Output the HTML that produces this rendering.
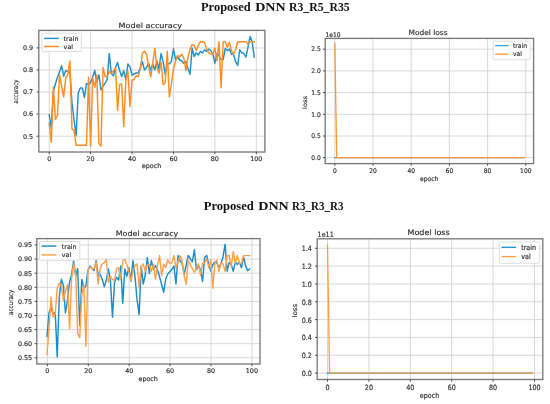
<!DOCTYPE html>
<html><head><meta charset="utf-8"><title>Proposed DNN</title>
<style>html,body{margin:0;padding:0;background:#fff;}body{width:550px;height:404px;overflow:hidden;}svg{display:block;filter:blur(0.3px);}</style>
</head><body>
<svg width="550" height="404" viewBox="0 0 550 404">
<rect width="550" height="404" fill="#fff"/>
<path d="M49.2 30.4V152M90.62 30.4V152M132.04 30.4V152M173.46 30.4V152M214.88 30.4V152M256.3 30.4V152M38.8 136.2H264.9M38.8 114.13H264.9M38.8 92.06H264.9M38.8 69.99H264.9M38.8 47.92H264.9" stroke="#d4d4d4" stroke-width="0.9" fill="none"/>
<path d="M49.2 114.7 L51.27 128.1 L53.34 91.5 L55.41 84 L57.48 77.3 L59.56 71.7 L61.63 65.8 L63.7 76.2 L65.77 70.6 L67.84 71.7 L69.91 72 L71.98 102.9 L74.05 120 L76.13 135.5 L78.2 93 L80.27 88 L82.34 88 L84.41 97.5 L86.48 83.4 L88.55 85 L90.62 82 L92.7 77 L94.77 70.5 L96.84 81.5 L98.91 75 L100.98 90 L103.05 86.2 L105.12 83.2 L107.19 79.5 L109.26 53.5 L111.34 73.6 L113.41 75.8 L115.48 67.6 L117.55 62.4 L119.62 70.6 L121.69 76.6 L123.76 70.6 L125.83 79.5 L127.91 63.9 L129.98 66.9 L132.05 75 L134.12 74 L136.19 73 L138.26 73 L140.33 67.6 L142.4 61.7 L144.48 69.9 L146.55 67.6 L148.62 63.2 L150.69 69.9 L152.76 63.9 L154.83 69.9 L156.9 61 L158.97 69.1 L161.04 53.5 L163.12 61.7 L165.19 74.3 L167.26 63.5 L169.33 63.9 L171.4 61.5 L173.47 48.8 L175.54 59.5 L177.61 57 L179.69 60 L181.76 61 L183.83 63.2 L185.9 61.7 L187.97 68.4 L190.04 74.3 L192.11 48.3 L194.18 56.5 L196.26 52.8 L198.33 55 L200.4 51.3 L202.47 52.8 L204.54 49.8 L206.61 51.3 L208.68 49.1 L210.75 50.5 L212.82 54 L214.9 63.2 L216.97 53.5 L219.04 55.8 L221.11 59.5 L223.18 59.5 L225.25 48.5 L227.32 50.6 L229.39 49.1 L231.47 54.3 L233.54 54.3 L235.61 61.7 L237.68 65.4 L239.75 49.8 L241.82 52.8 L243.89 53.5 L245.96 57.2 L248.04 46.9 L250.11 36.5 L252.18 41.7 L254.25 57.2" stroke="#2090c8" stroke-width="1.45" fill="none" stroke-linejoin="round" stroke-linecap="square"/>
<path d="M49.2 122.9 L51.27 142.2 L53.34 87.3 L55.41 119.2 L57.48 115.5 L59.56 75 L61.63 86 L63.7 96.8 L65.77 77.8 L67.84 74.5 L69.91 61.1 L71.98 128.8 L74.05 130.3 L76.13 145.2 L78.2 145.2 L80.27 145.2 L82.34 145.2 L84.41 145.2 L86.48 145.2 L88.55 77.3 L90.62 146.5 L92.7 78.2 L94.77 87.2 L96.84 75 L98.91 143.7 L100.98 145.9 L103.05 67.6 L105.12 76.6 L107.19 76.6 L109.26 71.4 L111.34 72.8 L113.41 71.4 L115.48 67.6 L117.55 110.3 L119.62 84.5 L121.69 84 L123.76 126.6 L125.83 80 L127.91 71.4 L129.98 106.6 L132.05 80.3 L134.12 79.5 L136.19 75.5 L138.26 76.6 L140.33 68.8 L142.4 53.5 L144.48 51.3 L146.55 54.4 L148.62 65.7 L150.69 77.1 L152.76 62.8 L154.83 48.4 L156.9 66.7 L158.97 73.2 L161.04 62.3 L163.12 84.7 L165.19 82.5 L167.26 51.3 L169.33 96.9 L171.4 84 L173.47 69 L175.54 61 L177.61 55.5 L179.69 56.8 L181.76 54.3 L183.83 58 L185.9 70.6 L187.97 57.2 L190.04 49.1 L192.11 44.6 L194.18 45.4 L196.26 50.6 L198.33 45.4 L200.4 41.7 L202.47 41.7 L204.54 42.4 L206.61 49.1 L208.68 52.8 L210.75 54 L212.82 54.3 L214.9 48.3 L216.97 60.6 L219.04 41.7 L221.11 87.7 L223.18 41.7 L225.25 41.7 L227.32 47.6 L229.39 42.4 L231.47 50.6 L233.54 54.3 L235.61 49.8 L237.68 41.7 L239.75 41.7 L241.82 41.7 L243.89 41.7 L245.96 41.7 L248.04 43.9 L250.11 41.7 L252.18 41.7 L254.25 41.7" stroke="#ff8c22" stroke-width="1.45" fill="none" stroke-linejoin="round" stroke-linecap="square"/>
<rect x="38.8" y="30.4" width="226.1" height="121.6" fill="none" stroke="#767676" stroke-width="1.3"/>
<path d="M49.2 152v2.2M90.62 152v2.2M132.04 152v2.2M173.46 152v2.2M214.88 152v2.2M256.3 152v2.2M38.8 136.2h-2.2M38.8 114.13h-2.2M38.8 92.06h-2.2M38.8 69.99h-2.2M38.8 47.92h-2.2" stroke="#4a4a4a" stroke-width="1.0" fill="none"/>
<g font-family="'DejaVu Sans', 'Liberation Sans', sans-serif" stroke="#2c2c2c" stroke-width="0.15">
<text x="49.2" y="160.6" font-size="6.4" text-anchor="middle" fill="#2c2c2c">0</text>
<text x="90.62" y="160.6" font-size="6.4" text-anchor="middle" fill="#2c2c2c">20</text>
<text x="132.04" y="160.6" font-size="6.4" text-anchor="middle" fill="#2c2c2c">40</text>
<text x="173.46" y="160.6" font-size="6.4" text-anchor="middle" fill="#2c2c2c">60</text>
<text x="214.88" y="160.6" font-size="6.4" text-anchor="middle" fill="#2c2c2c">80</text>
<text x="256.3" y="160.6" font-size="6.4" text-anchor="middle" fill="#2c2c2c">100</text>
<text x="33.2" y="138.5" font-size="6.4" text-anchor="end" fill="#2c2c2c">0.5</text>
<text x="33.2" y="116.43" font-size="6.4" text-anchor="end" fill="#2c2c2c">0.6</text>
<text x="33.2" y="94.36" font-size="6.4" text-anchor="end" fill="#2c2c2c">0.7</text>
<text x="33.2" y="72.29" font-size="6.4" text-anchor="end" fill="#2c2c2c">0.8</text>
<text x="33.2" y="50.22" font-size="6.4" text-anchor="end" fill="#2c2c2c">0.9</text>
<text x="150.3" y="27.6" font-size="7.2" text-anchor="middle" textLength="63.5" lengthAdjust="spacingAndGlyphs" fill="#2c2c2c">Model accuracy</text>
<text x="151.5" y="168.4" font-size="6.4" text-anchor="middle" fill="#2c2c2c">epoch</text>
<text transform="translate(18.1 91.6) scale(1 0.83) rotate(-90)" font-size="6.4" text-anchor="middle" fill="#2c2c2c">accuracy</text>
<rect x="42" y="33.2" width="39.3" height="18.3" rx="1.2" fill="#fff" fill-opacity="0.8" stroke="#d6d6d6" stroke-width="0.8"/>
<path d="M43.9 38.4H58.9" stroke="#2090c8" stroke-width="1.45"/>
<path d="M43.9 46.5H58.9" stroke="#ff8c22" stroke-width="1.45"/>
<text x="63.6" y="40.6" font-size="6.4" fill="#2c2c2c">train</text>
<text x="63.6" y="48.7" font-size="6.4" fill="#2c2c2c">val</text>
</g>
<path d="M334.8 38.4V163.6M373 38.4V163.6M411.2 38.4V163.6M449.4 38.4V163.6M487.6 38.4V163.6M525.8 38.4V163.6M325.2 157.7H533.6M325.2 136H533.6M325.2 114.3H533.6M325.2 92.6H533.6M325.2 70.9H533.6M325.2 49.2H533.6" stroke="#d4d4d4" stroke-width="0.9" fill="none"/>
<path d="M334.8 157.7 L336.71 157.7 L338.62 157.7 L340.53 157.7 L342.44 157.7 L344.35 157.7 L346.26 157.7 L348.17 157.7 L350.08 157.7 L351.99 157.7 L353.9 157.7 L355.81 157.7 L357.72 157.7 L359.63 157.7 L361.54 157.7 L363.45 157.7 L365.36 157.7 L367.27 157.7 L369.18 157.7 L371.09 157.7 L373 157.7 L374.91 157.7 L376.82 157.7 L378.73 157.7 L380.64 157.7 L382.55 157.7 L384.46 157.7 L386.37 157.7 L388.28 157.7 L390.19 157.7 L392.1 157.7 L394.01 157.7 L395.92 157.7 L397.83 157.7 L399.74 157.7 L401.65 157.7 L403.56 157.7 L405.47 157.7 L407.38 157.7 L409.29 157.7 L411.2 157.7 L413.11 157.7 L415.02 157.7 L416.93 157.7 L418.84 157.7 L420.75 157.7 L422.66 157.7 L424.57 157.7 L426.48 157.7 L428.39 157.7 L430.3 157.7 L432.21 157.7 L434.12 157.7 L436.03 157.7 L437.94 157.7 L439.85 157.7 L441.76 157.7 L443.67 157.7 L445.58 157.7 L447.49 157.7 L449.4 157.7 L451.31 157.7 L453.22 157.7 L455.13 157.7 L457.04 157.7 L458.95 157.7 L460.86 157.7 L462.77 157.7 L464.68 157.7 L466.59 157.7 L468.5 157.7 L470.41 157.7 L472.32 157.7 L474.23 157.7 L476.14 157.7 L478.05 157.7 L479.96 157.7 L481.87 157.7 L483.78 157.7 L485.69 157.7 L487.6 157.7 L489.51 157.7 L491.42 157.7 L493.33 157.7 L495.24 157.7 L497.15 157.7 L499.06 157.7 L500.97 157.7 L502.88 157.7 L504.79 157.7 L506.7 157.7 L508.61 157.7 L510.52 157.7 L512.43 157.7 L514.34 157.7 L516.25 157.7 L518.16 157.7 L520.07 157.7 L521.98 157.7 L523.89 157.7" stroke="#35a0d6" stroke-width="1.3" fill="none" stroke-linejoin="round" stroke-linecap="square"/>
<path d="M334.8 43.2 L336.71 157.7 L338.62 157.7 L340.53 157.7 L342.44 157.7 L344.35 157.7 L346.26 157.7 L348.17 157.7 L350.08 157.7 L351.99 157.7 L353.9 157.7 L355.81 157.7 L357.72 157.7 L359.63 157.7 L361.54 157.7 L363.45 157.7 L365.36 157.7 L367.27 157.7 L369.18 157.7 L371.09 157.7 L373 157.7 L374.91 157.7 L376.82 157.7 L378.73 157.7 L380.64 157.7 L382.55 157.7 L384.46 157.7 L386.37 157.7 L388.28 157.7 L390.19 157.7 L392.1 157.7 L394.01 157.7 L395.92 157.7 L397.83 157.7 L399.74 157.7 L401.65 157.7 L403.56 157.7 L405.47 157.7 L407.38 157.7 L409.29 157.7 L411.2 157.7 L413.11 157.7 L415.02 157.7 L416.93 157.7 L418.84 157.7 L420.75 157.7 L422.66 157.7 L424.57 157.7 L426.48 157.7 L428.39 157.7 L430.3 157.7 L432.21 157.7 L434.12 157.7 L436.03 157.7 L437.94 157.7 L439.85 157.7 L441.76 157.7 L443.67 157.7 L445.58 157.7 L447.49 157.7 L449.4 157.7 L451.31 157.7 L453.22 157.7 L455.13 157.7 L457.04 157.7 L458.95 157.7 L460.86 157.7 L462.77 157.7 L464.68 157.7 L466.59 157.7 L468.5 157.7 L470.41 157.7 L472.32 157.7 L474.23 157.7 L476.14 157.7 L478.05 157.7 L479.96 157.7 L481.87 157.7 L483.78 157.7 L485.69 157.7 L487.6 157.7 L489.51 157.7 L491.42 157.7 L493.33 157.7 L495.24 157.7 L497.15 157.7 L499.06 157.7 L500.97 157.7 L502.88 157.7 L504.79 157.7 L506.7 157.7 L508.61 157.7 L510.52 157.7 L512.43 157.7 L514.34 157.7 L516.25 157.7 L518.16 157.7 L520.07 157.7 L521.98 157.7 L523.89 157.7" stroke="#ff9530" stroke-width="1.3" fill="none" stroke-linejoin="round" stroke-linecap="square"/>
<rect x="325.2" y="38.4" width="208.4" height="125.2" fill="none" stroke="#767676" stroke-width="1.3"/>
<path d="M334.8 163.6v2.2M373 163.6v2.2M411.2 163.6v2.2M449.4 163.6v2.2M487.6 163.6v2.2M525.8 163.6v2.2M325.2 157.7h-2.2M325.2 136h-2.2M325.2 114.3h-2.2M325.2 92.6h-2.2M325.2 70.9h-2.2M325.2 49.2h-2.2" stroke="#4a4a4a" stroke-width="1.0" fill="none"/>
<g font-family="'DejaVu Sans', 'Liberation Sans', sans-serif" stroke="#2c2c2c" stroke-width="0.15">
<text transform="translate(334.8 172.6) scale(1 1.06)" font-size="6" text-anchor="middle" fill="#2c2c2c">0</text>
<text transform="translate(373 172.6) scale(1 1.06)" font-size="6" text-anchor="middle" fill="#2c2c2c">20</text>
<text transform="translate(411.2 172.6) scale(1 1.06)" font-size="6" text-anchor="middle" fill="#2c2c2c">40</text>
<text transform="translate(449.4 172.6) scale(1 1.06)" font-size="6" text-anchor="middle" fill="#2c2c2c">60</text>
<text transform="translate(487.6 172.6) scale(1 1.06)" font-size="6" text-anchor="middle" fill="#2c2c2c">80</text>
<text transform="translate(525.8 172.6) scale(1 1.06)" font-size="6" text-anchor="middle" fill="#2c2c2c">100</text>
<text transform="translate(320.7 159.9) scale(1 1.06)" font-size="6" text-anchor="end" fill="#2c2c2c">0.0</text>
<text transform="translate(320.7 138.2) scale(1 1.06)" font-size="6" text-anchor="end" fill="#2c2c2c">0.5</text>
<text transform="translate(320.7 116.5) scale(1 1.06)" font-size="6" text-anchor="end" fill="#2c2c2c">1.0</text>
<text transform="translate(320.7 94.8) scale(1 1.06)" font-size="6" text-anchor="end" fill="#2c2c2c">1.5</text>
<text transform="translate(320.7 73.1) scale(1 1.06)" font-size="6" text-anchor="end" fill="#2c2c2c">2.0</text>
<text transform="translate(320.7 51.4) scale(1 1.06)" font-size="6" text-anchor="end" fill="#2c2c2c">2.5</text>
<text x="428" y="35.1" font-size="7.2" text-anchor="middle" textLength="39" lengthAdjust="spacingAndGlyphs" fill="#2c2c2c">Model loss</text>
<text transform="translate(429.2 180.6) scale(1 1.06)" font-size="6" text-anchor="middle" fill="#2c2c2c">epoch</text>
<text transform="translate(306.7 102.5) scale(1 1.12) rotate(-90)" font-size="6" text-anchor="middle" fill="#2c2c2c">loss</text>
<text transform="translate(325.4 36.7) scale(1 1.06)" font-size="6" fill="#2c2c2c">1e10</text>
<rect x="493.3" y="41.1" width="36.8" height="18.6" rx="1.2" fill="#fff" fill-opacity="0.8" stroke="#d6d6d6" stroke-width="0.8"/>
<path d="M495.2 45.6H508.6" stroke="#35a0d6" stroke-width="1.3"/>
<path d="M495.2 54.2H508.6" stroke="#ff9530" stroke-width="1.3"/>
<text transform="translate(513 47.7) scale(1 1.06)" font-size="6" fill="#2c2c2c">train</text>
<text transform="translate(513 56.3) scale(1 1.06)" font-size="6" fill="#2c2c2c">val</text>
</g>
<path d="M47.4 238.6V364M88.3 238.6V364M129.2 238.6V364M170.1 238.6V364M211 238.6V364M251.9 238.6V364M36.8 357.8H260M36.8 343.7H260M36.8 329.6H260M36.8 315.5H260M36.8 301.4H260M36.8 287.3H260M36.8 273.2H260M36.8 259.1H260M36.8 245H260" stroke="#d4d4d4" stroke-width="0.9" fill="none"/>
<path d="M47 336.5 L49.05 312.5 L51.09 308 L53.14 314 L55.19 312 L57.23 357 L59.28 297 L61.33 279.3 L63.38 285.3 L65.42 313 L67.47 300 L69.52 282.3 L71.56 274.7 L73.61 261 L75.66 276 L77.7 268.5 L79.75 325.5 L81.8 279.5 L83.85 288 L85.89 286 L87.94 270.4 L89.99 266.1 L92.03 268.4 L94.08 270.6 L96.13 260.6 L98.18 275 L100.22 274.5 L102.27 279.5 L104.32 286.7 L106.36 280.1 L108.41 268.9 L110.46 281.2 L112.5 317.3 L114.55 282.3 L116.6 277.3 L118.65 280.1 L120.69 266.1 L122.74 303.4 L124.79 268.9 L126.83 276.2 L128.88 267.8 L130.93 281.2 L132.97 260.6 L135.02 277 L137.07 300 L139.12 314.5 L141.16 266.1 L143.21 284 L145.26 275 L147.3 257.8 L149.35 273.4 L151.4 260.6 L153.44 269 L155.49 265.6 L157.54 270 L159.59 276.7 L161.63 284.5 L163.68 292.2 L165.73 279 L167.77 274 L169.82 271.7 L171.87 269.5 L173.91 266.1 L175.96 284 L178.01 255.6 L180.06 261.1 L182.1 263 L184.15 274.3 L186.2 265 L188.24 255.4 L190.29 258.7 L192.34 262 L194.38 249.8 L196.43 269.8 L198.48 265.4 L200.53 270 L202.57 281.5 L204.62 257.6 L206.67 255.4 L208.71 264.3 L210.76 271 L212.81 264.5 L214.85 262 L216.9 263 L218.95 268 L221 263.4 L223.04 256.7 L225.09 244.4 L227.14 271.1 L229.18 262.4 L231.23 264.5 L233.28 271.2 L235.32 262.3 L237.37 264.5 L239.42 262.3 L241.47 267.8 L243.51 256.7 L245.56 265.6 L247.61 270.6 L249.65 269" stroke="#1c8cc8" stroke-width="1.45" fill="none" stroke-linejoin="round" stroke-linecap="square"/>
<path d="M47 354.8 L49.05 327.6 L51.09 297 L53.14 317 L55.19 314 L57.23 288.3 L59.28 283 L61.33 286 L63.38 300.5 L65.42 291 L67.47 284.9 L69.52 328.7 L71.56 279.3 L73.61 263.8 L75.66 272.7 L77.7 333.7 L79.75 337.6 L81.8 294.4 L83.85 285.3 L85.89 346.3 L87.94 270.2 L89.99 267 L92.03 268.4 L94.08 269 L96.13 262 L98.18 284 L100.22 268.4 L102.27 263.9 L104.32 262.8 L106.36 259.5 L108.41 282.3 L110.46 276.2 L112.5 279.5 L114.55 280.1 L116.6 268.4 L118.65 267.8 L120.69 279 L122.74 261.1 L124.79 259.5 L126.83 264.5 L128.88 271.7 L130.93 280.6 L132.97 271.2 L135.02 265.5 L137.07 263.9 L139.12 288 L141.16 266.7 L143.21 263.9 L145.26 271.7 L147.3 265 L149.35 264.5 L151.4 271.2 L153.44 264.5 L155.49 279.5 L157.54 265 L159.59 255.6 L161.63 275.6 L163.68 264.5 L165.73 267.3 L167.77 260 L169.82 263.4 L171.87 262.8 L173.91 255.6 L175.96 267.8 L178.01 262.2 L180.06 255.6 L182.1 261 L184.15 275.6 L186.2 284.3 L188.24 260 L190.29 264.3 L192.34 268.7 L194.38 272.1 L196.43 268 L198.48 263.7 L200.53 275.4 L202.57 263.2 L204.62 263 L206.67 258.7 L208.71 267.6 L210.76 259.8 L212.81 288.2 L214.85 263.4 L216.9 260 L218.95 271.3 L221 263.3 L223.04 264 L225.09 271.3 L227.14 255.5 L229.18 255.5 L231.23 267 L233.28 251.6 L235.32 263.4 L237.37 255.6 L239.42 263.4 L241.47 263.4 L243.51 255.6 L245.56 255.6 L247.61 255.6 L249.65 255.6" stroke="#ffa04a" stroke-width="1.45" fill="none" stroke-linejoin="round" stroke-linecap="square"/>
<rect x="36.8" y="238.6" width="223.2" height="125.4" fill="none" stroke="#767676" stroke-width="1.3"/>
<path d="M47.4 364v2.2M88.3 364v2.2M129.2 364v2.2M170.1 364v2.2M211 364v2.2M251.9 364v2.2M36.8 357.8h-2.2M36.8 343.7h-2.2M36.8 329.6h-2.2M36.8 315.5h-2.2M36.8 301.4h-2.2M36.8 287.3h-2.2M36.8 273.2h-2.2M36.8 259.1h-2.2M36.8 245h-2.2" stroke="#4a4a4a" stroke-width="1.0" fill="none"/>
<g font-family="'DejaVu Sans', 'Liberation Sans', sans-serif" stroke="#2c2c2c" stroke-width="0.15">
<text x="47.4" y="373" font-size="6.4" text-anchor="middle" fill="#2c2c2c">0</text>
<text x="88.3" y="373" font-size="6.4" text-anchor="middle" fill="#2c2c2c">20</text>
<text x="129.2" y="373" font-size="6.4" text-anchor="middle" fill="#2c2c2c">40</text>
<text x="170.1" y="373" font-size="6.4" text-anchor="middle" fill="#2c2c2c">60</text>
<text x="211" y="373" font-size="6.4" text-anchor="middle" fill="#2c2c2c">80</text>
<text x="251.9" y="373" font-size="6.4" text-anchor="middle" fill="#2c2c2c">100</text>
<text x="32.2" y="360.1" font-size="6.4" text-anchor="end" fill="#2c2c2c">0.55</text>
<text x="32.2" y="346" font-size="6.4" text-anchor="end" fill="#2c2c2c">0.60</text>
<text x="32.2" y="331.9" font-size="6.4" text-anchor="end" fill="#2c2c2c">0.65</text>
<text x="32.2" y="317.8" font-size="6.4" text-anchor="end" fill="#2c2c2c">0.70</text>
<text x="32.2" y="303.7" font-size="6.4" text-anchor="end" fill="#2c2c2c">0.75</text>
<text x="32.2" y="289.6" font-size="6.4" text-anchor="end" fill="#2c2c2c">0.80</text>
<text x="32.2" y="275.5" font-size="6.4" text-anchor="end" fill="#2c2c2c">0.85</text>
<text x="32.2" y="261.4" font-size="6.4" text-anchor="end" fill="#2c2c2c">0.90</text>
<text x="32.2" y="247.3" font-size="6.4" text-anchor="end" fill="#2c2c2c">0.95</text>
<text x="147" y="235.6" font-size="7.3" text-anchor="middle" textLength="62.6" lengthAdjust="spacingAndGlyphs" fill="#2c2c2c">Model accuracy</text>
<text x="148.2" y="381" font-size="6.4" text-anchor="middle" fill="#2c2c2c">epoch</text>
<text transform="translate(12.6 302.3) scale(1 0.88) rotate(-90)" font-size="6.4" text-anchor="middle" fill="#2c2c2c">accuracy</text>
<rect x="39.5" y="241.5" width="40.3" height="18.8" rx="1.2" fill="#fff" fill-opacity="0.8" stroke="#d6d6d6" stroke-width="0.8"/>
<path d="M41.6 246.1H56.4" stroke="#1c8cc8" stroke-width="1.45"/>
<path d="M41.6 254.9H56.4" stroke="#ffa04a" stroke-width="1.45"/>
<text x="61.8" y="248.5" font-size="6.4" fill="#2c2c2c">train</text>
<text x="61.8" y="257.3" font-size="6.4" fill="#2c2c2c">val</text>
</g>
<path d="M327.5 238.8V379.5M368.9 238.8V379.5M410.3 238.8V379.5M451.7 238.8V379.5M493.1 238.8V379.5M534.5 238.8V379.5M317.2 373.1H542.8M317.2 355.27H542.8M317.2 337.44H542.8M317.2 319.61H542.8M317.2 301.78H542.8M317.2 283.95H542.8M317.2 266.12H542.8M317.2 248.29H542.8" stroke="#d4d4d4" stroke-width="0.9" fill="none"/>
<path d="M327.5 373.1 L329.57 373.1 L331.64 373.1 L333.71 373.1 L335.78 373.1 L337.85 373.1 L339.92 373.1 L341.99 373.1 L344.06 373.1 L346.13 373.1 L348.2 373.1 L350.27 373.1 L352.34 373.1 L354.41 373.1 L356.48 373.1 L358.55 373.1 L360.62 373.1 L362.69 373.1 L364.76 373.1 L366.83 373.1 L368.9 373.1 L370.97 373.1 L373.04 373.1 L375.11 373.1 L377.18 373.1 L379.25 373.1 L381.32 373.1 L383.39 373.1 L385.46 373.1 L387.53 373.1 L389.6 373.1 L391.67 373.1 L393.74 373.1 L395.81 373.1 L397.88 373.1 L399.95 373.1 L402.02 373.1 L404.09 373.1 L406.16 373.1 L408.23 373.1 L410.3 373.1 L412.37 373.1 L414.44 373.1 L416.51 373.1 L418.58 373.1 L420.65 373.1 L422.72 373.1 L424.79 373.1 L426.86 373.1 L428.93 373.1 L431 373.1 L433.07 373.1 L435.14 373.1 L437.21 373.1 L439.28 373.1 L441.35 373.1 L443.42 373.1 L445.49 373.1 L447.56 373.1 L449.63 373.1 L451.7 373.1 L453.77 373.1 L455.84 373.1 L457.91 373.1 L459.98 373.1 L462.05 373.1 L464.12 373.1 L466.19 373.1 L468.26 373.1 L470.33 373.1 L472.4 373.1 L474.47 373.1 L476.54 373.1 L478.61 373.1 L480.68 373.1 L482.75 373.1 L484.82 373.1 L486.89 373.1 L488.96 373.1 L491.03 373.1 L493.1 373.1 L495.17 373.1 L497.24 373.1 L499.31 373.1 L501.38 373.1 L503.45 373.1 L505.52 373.1 L507.59 373.1 L509.66 373.1 L511.73 373.1 L513.8 373.1 L515.87 373.1 L517.94 373.1 L520.01 373.1 L522.08 373.1 L524.15 373.1 L526.22 373.1 L528.29 373.1 L530.36 373.1 L532.43 373.1" stroke="#1c8ecb" stroke-width="1.3" fill="none" stroke-linejoin="round" stroke-linecap="square"/>
<path d="M327.5 245.2 L329.57 373.1 L331.64 373.1 L333.71 373.1 L335.78 373.1 L337.85 373.1 L339.92 373.1 L341.99 373.1 L344.06 373.1 L346.13 373.1 L348.2 373.1 L350.27 373.1 L352.34 373.1 L354.41 373.1 L356.48 373.1 L358.55 373.1 L360.62 373.1 L362.69 373.1 L364.76 373.1 L366.83 373.1 L368.9 373.1 L370.97 373.1 L373.04 373.1 L375.11 373.1 L377.18 373.1 L379.25 373.1 L381.32 373.1 L383.39 373.1 L385.46 373.1 L387.53 373.1 L389.6 373.1 L391.67 373.1 L393.74 373.1 L395.81 373.1 L397.88 373.1 L399.95 373.1 L402.02 373.1 L404.09 373.1 L406.16 373.1 L408.23 373.1 L410.3 373.1 L412.37 373.1 L414.44 373.1 L416.51 373.1 L418.58 373.1 L420.65 373.1 L422.72 373.1 L424.79 373.1 L426.86 373.1 L428.93 373.1 L431 373.1 L433.07 373.1 L435.14 373.1 L437.21 373.1 L439.28 373.1 L441.35 373.1 L443.42 373.1 L445.49 373.1 L447.56 373.1 L449.63 373.1 L451.7 373.1 L453.77 373.1 L455.84 373.1 L457.91 373.1 L459.98 373.1 L462.05 373.1 L464.12 373.1 L466.19 373.1 L468.26 373.1 L470.33 373.1 L472.4 373.1 L474.47 373.1 L476.54 373.1 L478.61 373.1 L480.68 373.1 L482.75 373.1 L484.82 373.1 L486.89 373.1 L488.96 373.1 L491.03 373.1 L493.1 373.1 L495.17 373.1 L497.24 373.1 L499.31 373.1 L501.38 373.1 L503.45 373.1 L505.52 373.1 L507.59 373.1 L509.66 373.1 L511.73 373.1 L513.8 373.1 L515.87 373.1 L517.94 373.1 L520.01 373.1 L522.08 373.1 L524.15 373.1 L526.22 373.1 L528.29 373.1 L530.36 373.1 L532.43 373.1" stroke="#ffa040" stroke-width="1.3" fill="none" stroke-linejoin="round" stroke-linecap="square"/>
<rect x="317.2" y="238.8" width="225.6" height="140.7" fill="none" stroke="#767676" stroke-width="1.3"/>
<path d="M327.5 379.5v2.2M368.9 379.5v2.2M410.3 379.5v2.2M451.7 379.5v2.2M493.1 379.5v2.2M534.5 379.5v2.2M317.2 373.1h-2.2M317.2 355.27h-2.2M317.2 337.44h-2.2M317.2 319.61h-2.2M317.2 301.78h-2.2M317.2 283.95h-2.2M317.2 266.12h-2.2M317.2 248.29h-2.2" stroke="#4a4a4a" stroke-width="1.0" fill="none"/>
<g font-family="'DejaVu Sans', 'Liberation Sans', sans-serif" stroke="#2c2c2c" stroke-width="0.15">
<text transform="translate(327.5 389.8) scale(1 1.14)" font-size="6.4" text-anchor="middle" fill="#2c2c2c">0</text>
<text transform="translate(368.9 389.8) scale(1 1.14)" font-size="6.4" text-anchor="middle" fill="#2c2c2c">20</text>
<text transform="translate(410.3 389.8) scale(1 1.14)" font-size="6.4" text-anchor="middle" fill="#2c2c2c">40</text>
<text transform="translate(451.7 389.8) scale(1 1.14)" font-size="6.4" text-anchor="middle" fill="#2c2c2c">60</text>
<text transform="translate(493.1 389.8) scale(1 1.14)" font-size="6.4" text-anchor="middle" fill="#2c2c2c">80</text>
<text transform="translate(534.5 389.8) scale(1 1.14)" font-size="6.4" text-anchor="middle" fill="#2c2c2c">100</text>
<text transform="translate(311.9 376.1) scale(1 1.14)" font-size="6.4" text-anchor="end" fill="#2c2c2c">0.0</text>
<text transform="translate(311.9 358.27) scale(1 1.14)" font-size="6.4" text-anchor="end" fill="#2c2c2c">0.2</text>
<text transform="translate(311.9 340.44) scale(1 1.14)" font-size="6.4" text-anchor="end" fill="#2c2c2c">0.4</text>
<text transform="translate(311.9 322.61) scale(1 1.14)" font-size="6.4" text-anchor="end" fill="#2c2c2c">0.6</text>
<text transform="translate(311.9 304.78) scale(1 1.14)" font-size="6.4" text-anchor="end" fill="#2c2c2c">0.8</text>
<text transform="translate(311.9 286.95) scale(1 1.14)" font-size="6.4" text-anchor="end" fill="#2c2c2c">1.0</text>
<text transform="translate(311.9 269.12) scale(1 1.14)" font-size="6.4" text-anchor="end" fill="#2c2c2c">1.2</text>
<text transform="translate(311.9 251.29) scale(1 1.14)" font-size="6.4" text-anchor="end" fill="#2c2c2c">1.4</text>
<text x="428.6" y="235.1" font-size="7.6" text-anchor="middle" textLength="42.3" lengthAdjust="spacingAndGlyphs" fill="#2c2c2c">Model loss</text>
<text transform="translate(429.6 397.8) scale(1 1.14)" font-size="6.4" text-anchor="middle" fill="#2c2c2c">epoch</text>
<text transform="translate(297.2 310.7) scale(1 1.1) rotate(-90)" font-size="6.4" text-anchor="middle" fill="#2c2c2c">loss</text>
<text transform="translate(317.6 237.3) scale(1 1.14)" font-size="6.4" fill="#2c2c2c">1e11</text>
<rect x="499.4" y="242.1" width="40.1" height="21.2" rx="1.2" fill="#fff" fill-opacity="0.8" stroke="#d6d6d6" stroke-width="0.8"/>
<path d="M501.5 247.3H516" stroke="#1c8ecb" stroke-width="1.3"/>
<path d="M501.5 256.6H516" stroke="#ffa040" stroke-width="1.3"/>
<text transform="translate(521.2 249.6) scale(1 1.14)" font-size="6.4" fill="#2c2c2c">train</text>
<text transform="translate(521.2 258.9) scale(1 1.14)" font-size="6.4" fill="#2c2c2c">val</text>
</g>
<g font-family="'Liberation Serif', 'DejaVu Serif', serif" font-weight="bold" fill="#111">
<text transform="translate(0 11.1) scale(1 1.06)" font-size="12.6"><tspan x="201" textLength="49.6" lengthAdjust="spacingAndGlyphs">Proposed</tspan> <tspan x="255.2" textLength="30.5" lengthAdjust="spacingAndGlyphs">DNN</tspan> <tspan x="289" textLength="60.7" lengthAdjust="spacingAndGlyphs">R3_R5_R35</tspan></text>
<text transform="translate(0 209.9) scale(1 1.06)" font-size="12.4"><tspan x="203.7" textLength="50.2" lengthAdjust="spacingAndGlyphs">Proposed</tspan> <tspan x="258.2" textLength="30.6" lengthAdjust="spacingAndGlyphs">DNN</tspan> <tspan x="292.1" textLength="51.4" lengthAdjust="spacingAndGlyphs">R3_R3_R3</tspan></text>
</g>
</svg>
</body></html>
